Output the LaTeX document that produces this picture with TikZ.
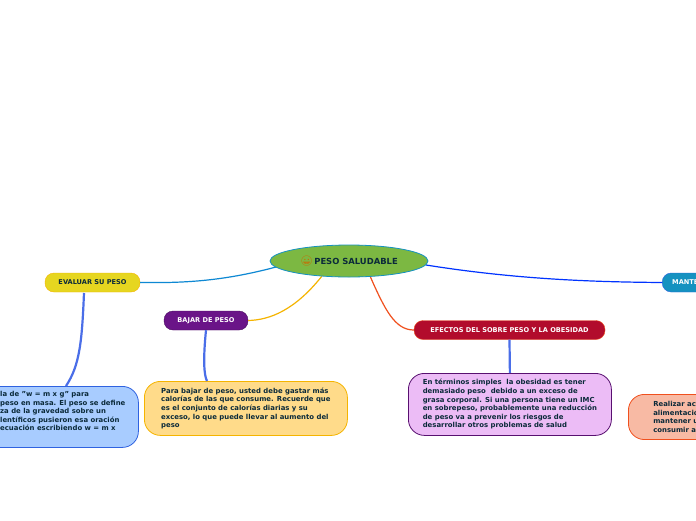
\documentclass[tikz,border=0pt]{standalone}
\usepackage{fontspec}
\setmainfont{DejaVu Sans}
\newfontfamily\emo{Noto Emoji}
\usetikzlibrary{shapes.geometric}
\definecolor{cgreen}{HTML}{7CB842}
\definecolor{cyel}{HTML}{E6D620}
\definecolor{cpur}{HTML}{6A1488}
\definecolor{ccrim}{HTML}{B20C2C}
\definecolor{cteal}{HTML}{1592C0}
\definecolor{bblue}{HTML}{A8CCFF}
\definecolor{bbluel}{HTML}{2F62E0}
\definecolor{borng}{HTML}{FFDB8A}
\definecolor{borngl}{HTML}{F5B400}
\definecolor{bpink}{HTML}{ECBCF6}
\definecolor{bpinkl}{HTML}{581070}
\definecolor{bsal}{HTML}{F8BAA4}
\definecolor{bsall}{HTML}{F0501E}
\definecolor{tdark}{HTML}{0B2A3A}
\definecolor{lnk}{HTML}{4A6EE8}
\begin{document}
\begin{tikzpicture}[x=1pt,y=-1pt,
 topic/.style={rounded corners=9pt,minimum height=19pt,font=\bfseries\fontsize{6.6}{7}\selectfont,inner xsep=0pt},
 textbox/.style={rounded corners=16pt,line width=0.8pt,anchor=north west,font=\bfseries\fontsize{6.9}{8.6}\selectfont,text=tdark,align=left,inner sep=0pt},
 conn/.style={line width=1.2pt},
 sub/.style={color=lnk,line width=2.2pt}]
\useasboundingbox (0,0) rectangle (696,520);
\clip (0,0) rectangle (696,520);
\fill[white] (0,0) rectangle (696,520);
\coordinate (c1) at (276,267);
\coordinate (c2) at (322,276);
\coordinate (c3) at (370,276);
\coordinate (c4) at (426,265);
\node[topic,fill=cyel,draw=borngl,minimum width=95pt,text=tdark] (ev) at (92.5,282.5) {EVALUAR SU PESO};
\node[topic,fill=cpur,draw=cpur!70!black,minimum width=84pt,text=white] (ba) at (206,320.5) {BAJAR DE PESO};
\node[topic,fill=ccrim,draw=bsall,minimum width=191pt,text=white] (ef) at (509.5,330) {EFECTOS DEL SOBRE PESO Y LA OBESIDAD};
\node[topic,fill=cteal,draw=bbluel,minimum width=80pt,text=white,anchor=west,text width=60pt,align=left,inner xsep=10pt] (ma) at (662,282.5) {MANTENER};
\draw[conn,color=cyan!70!blue] (c1) .. controls (220,282) and (180,283) .. (ev.east);
\draw[conn,color=borngl] (c2) .. controls (295,310) and (270,320) .. (ba.east);
\draw[conn,color=bsall] (c3) .. controls (385,310) and (395,330) .. (ef.west);
\draw[conn,color=blue!80!cyan] (c4) .. controls (520,280) and (600,282) .. (ma.west);
\node[ellipse,fill=cgreen,draw=cteal,line width=0.8pt,minimum width=158pt,minimum height=32pt,font=\bfseries\fontsize{8.4}{9}\selectfont,text=tdark] (ps) at (349,261) {{\emo\fontsize{10}{10}\selectfont\color{orange!80!black}😀}\,PESO SALUDABLE};
\node[textbox,fill=bblue,draw=bbluel,minimum width=178pt,minimum height=61pt] (t1) at (-40,386) {};
\node[anchor=north west,font=\bfseries\fontsize{6.9}{8.6}\selectfont,text=tdark,align=left,inner sep=0pt] (t1t) at (0,391) {la de "w = m x g" para\\peso en masa. El peso se define\\za de la gravedad sobre un\\lentíficos pusieron esa oración\\ecuación escribiendo w = m x};
\node[textbox,fill=borng,draw=borngl,minimum width=203pt,minimum height=54pt,inner xsep=14pt,inner ysep=6pt] (t2) at (144,381) {Para bajar de peso, usted debe gastar más\\calorías de las que consume. Recuerde que\\es el conjunto de calorías diarias y su\\exceso, lo que puede llevar al aumento del\\peso};
\node[textbox,fill=bpink,draw=bpinkl,minimum width=203pt,minimum height=62pt,inner xsep=14pt,inner ysep=6pt] (t3) at (408,373) {En términos simples\ \ la obesidad es tener\\demasiado peso\ \ debido a un exceso de\\grasa corporal. Si una persona tiene un IMC\\en sobrepeso, probablemente una reducción\\de peso va a prevenir los riesgos de\\desarrollar otros problemas de salud};
\node[textbox,fill=bsal,draw=bsall,minimum width=100pt,minimum height=44pt,inner xsep=19pt,inner ysep=7pt] (t4) at (628,394) {Realizar acti\\alimentación\\mantener un\\consumir ab};
\coordinate (e1) at (84,293);
\coordinate (e2) at (66,386);
\draw[sub] (e1) .. controls (82,340) and (80,365) .. (e2);
\coordinate (e3) at (207,381);
\draw[sub] (ba.south) .. controls (203,360) and (204,375) .. (e3);
\draw[sub] (ef.south) -- (t3.north);
\end{tikzpicture}
\end{document}
